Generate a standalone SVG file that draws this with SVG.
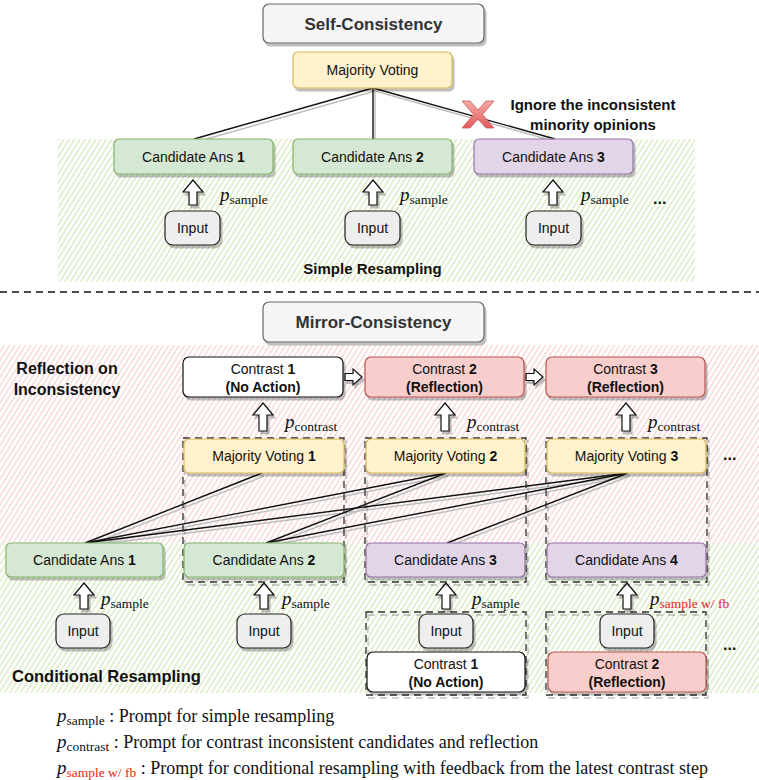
<svg xmlns="http://www.w3.org/2000/svg" width="759" height="780" viewBox="0 0 759 780">
<defs>
<pattern id="hg" width="4.5" height="4.5" patternUnits="userSpaceOnUse" patternTransform="rotate(32)"><line x1="2" y1="0" x2="2" y2="4.5" stroke="#c9e3a6" stroke-width="1"/></pattern>
<pattern id="hp" width="4.5" height="4.5" patternUnits="userSpaceOnUse" patternTransform="rotate(32)"><line x1="2" y1="0" x2="2" y2="4.5" stroke="#f6c6c6" stroke-width="1"/></pattern>
<filter id="sh" x="-10%" y="-10%" width="130%" height="150%"><feDropShadow dx="2" dy="3" stdDeviation="0.7" flood-color="#000" flood-opacity="0.25"/></filter>
<linearGradient id="xg" x1="0" y1="0" x2="0" y2="1"><stop offset="0" stop-color="#f6aaa6"/><stop offset="1" stop-color="#e05c5c"/></linearGradient>
<style>
.t{font-family:"Liberation Sans",Arial,sans-serif;font-size:14px;fill:#111;text-anchor:middle}
.b{font-weight:bold}
.title{font-family:"Liberation Sans",Arial,sans-serif;font-size:17px;font-weight:bold;fill:#333;text-anchor:middle}
.lab{font-family:"Liberation Sans",Arial,sans-serif;font-weight:bold;fill:#111}
.m{font-family:"Liberation Serif","Times New Roman",serif;fill:#111}
.pi{font-style:italic;font-size:19px}
.sub{font-size:13.5px}
.red{fill:#e8231e}
.leg{font-size:18px}
.gray{fill:#f5f5f5;stroke:#666;stroke-width:1.2}
.yel{fill:#fff2cc;stroke:#d6b656;stroke-width:1.2}
.grn{fill:#d5e8d4;stroke:#82b366;stroke-width:1.2}
.pur{fill:#e1d5e7;stroke:#9673a6;stroke-width:1.2}
.pnk{fill:#f8cecc;stroke:#b85450;stroke-width:1.2}
.wht{fill:#fff;stroke:#111;stroke-width:1.2}
.inp{fill:#eeeeee;stroke:#222;stroke-width:1.2}
.arr{fill:#fff;stroke:#111;stroke-width:1.2;stroke-linejoin:miter}
.cont{fill:none;stroke:#333;stroke-width:1.3;stroke-dasharray:7 5}
.ln{stroke:#111;stroke-width:1.4;fill:none}
.lns{stroke:#bdbdbd;stroke-width:1.4;fill:none}
</style>
</defs>

<g id="backgrounds">
<rect x="58" y="139" width="637" height="143" fill="url(#hg)"/>
<rect x="0" y="345" width="759" height="198" fill="url(#hp)"/>
<rect x="0" y="543" width="759" height="150" fill="url(#hg)"/>
<line x1="0" y1="292" x2="759" y2="292" stroke="#111" stroke-width="1.5" stroke-dasharray="7 5"/>
</g>

<g id="connectors">
<g transform="translate(2,3)">
<line class="lns" x1="373" y1="88" x2="194" y2="139"/>
<line class="lns" x1="373" y1="88" x2="373" y2="139"/>
<line class="lns" x1="373" y1="88" x2="555" y2="139"/>
<line class="lns" x1="262" y1="473" x2="85" y2="543"/>
<line class="lns" x1="446" y1="473" x2="85" y2="543"/>
<line class="lns" x1="446" y1="473" x2="266" y2="543"/>
<line class="lns" x1="628" y1="473" x2="85" y2="543"/>
<line class="lns" x1="628" y1="473" x2="266" y2="543"/>
<line class="lns" x1="628" y1="473" x2="447" y2="543"/>
</g>
<line class="ln" x1="373" y1="88" x2="194" y2="139"/>
<line class="ln" x1="373" y1="88" x2="373" y2="139"/>
<line class="ln" x1="373" y1="88" x2="555" y2="139"/>
<line class="ln" x1="262" y1="473" x2="85" y2="543"/>
<line class="ln" x1="446" y1="473" x2="85" y2="543"/>
<line class="ln" x1="446" y1="473" x2="266" y2="543"/>
<line class="ln" x1="628" y1="473" x2="85" y2="543"/>
<line class="ln" x1="628" y1="473" x2="266" y2="543"/>
<line class="ln" x1="628" y1="473" x2="447" y2="543"/>
<g filter="url(#sh)">
<polygon class="arr" points="193,180 203,192 197,192 197,205 189,205 189,192 183,192"/>
<polygon class="arr" points="373,180 383,192 377,192 377,205 369,205 369,192 363,192"/>
<polygon class="arr" points="553,180 563,192 557,192 557,205 549,205 549,192 543,192"/>
<polygon class="arr" points="263,403 273,415 267,415 267,431 259,431 259,415 253,415"/>
<polygon class="arr" points="445,403 455,415 449,415 449,431 441,431 441,415 435,415"/>
<polygon class="arr" points="626,403 636,415 630,415 630,431 622,431 622,415 616,415"/>
<polygon class="arr" points="84,583 94,595 88,595 88,609 80,609 80,595 74,595"/>
<polygon class="arr" points="264,583 274,595 268,595 268,609 260,609 260,595 254,595"/>
<polygon class="arr" points="446,583 456,595 450,595 450,609 442,609 442,595 436,595"/>
<polygon class="arr" points="627,583 637,595 631,595 631,609 623,609 623,595 617,595"/>
<polygon class="arr" points="345,373.5 353,373.5 353,369 362,377 353,385 353,380.5 345,380.5"/>
<polygon class="arr" points="526,373.5 534,373.5 534,369 543,377 534,385 534,380.5 526,380.5"/>
</g>
</g>

<g id="self-consistency">
<rect class="gray" x="263" y="4" width="221" height="39" rx="6" filter="url(#sh)"/>
<text class="title" x="373.5" y="29.5">Self-Consistency</text>
</g>
<g id="mv-top">
<rect class="yel" x="293" y="52" width="159" height="36" rx="5" filter="url(#sh)"/>
<text class="t" x="372.5" y="75">Majority Voting</text>
</g>
<g id="cand-top-1">
<rect class="grn" x="114" y="139" width="159" height="35" rx="5" filter="url(#sh)"/>
<text class="t" x="193.5" y="161.5">Candidate Ans <tspan class="b">1</tspan></text>
</g>
<g id="cand-top-2">
<rect class="grn" x="293" y="139" width="159" height="35" rx="5" filter="url(#sh)"/>
<text class="t" x="372.5" y="161.5">Candidate Ans <tspan class="b">2</tspan></text>
</g>
<g id="cand-top-3">
<rect class="pur" x="474" y="139" width="159" height="35" rx="5" filter="url(#sh)"/>
<text class="t" x="553.5" y="161.5">Candidate Ans <tspan class="b">3</tspan></text>
</g>
<g id="input-top-1">
<rect class="inp" x="165" y="211" width="55" height="34" rx="8" filter="url(#sh)"/>
<text class="t" x="192.5" y="233">Input</text>
</g>
<g id="input-top-2">
<rect class="inp" x="345" y="211" width="55" height="34" rx="8" filter="url(#sh)"/>
<text class="t" x="372.5" y="233">Input</text>
</g>
<g id="input-top-3">
<rect class="inp" x="526" y="211" width="55" height="34" rx="8" filter="url(#sh)"/>
<text class="t" x="553.5" y="233">Input</text>
</g>
<g id="labels-top">
<text class="m" x="220" y="201"><tspan class="pi">p</tspan><tspan class="sub" dy="3">sample</tspan></text>
<text class="m" x="400" y="201"><tspan class="pi">p</tspan><tspan class="sub" dy="3">sample</tspan></text>
<text class="m" x="581" y="201"><tspan class="pi">p</tspan><tspan class="sub" dy="3">sample</tspan></text>
<text class="lab" x="653" y="204" font-size="16">...</text>
<text class="lab" x="372.5" y="274" font-size="15" text-anchor="middle" fill="#222">Simple Resampling</text>
<polygon points="462,101 470,101 478,110 486,101 494,101 482.5,114.5 494,128 486,128 478,119 470,128 462,128 473.5,114.5" fill="url(#xg)" stroke="#cc5a5a" stroke-width="0.8"/>
<text class="lab" x="593" y="110" font-size="15" text-anchor="middle">Ignore the inconsistent</text>
<text class="lab" x="593" y="130" font-size="15" text-anchor="middle">minority opinions</text>
</g>

<g id="mirror-consistency">
<rect class="gray" x="263" y="302" width="221" height="40" rx="6" filter="url(#sh)"/>
<text class="title" x="373.5" y="328">Mirror-Consistency</text>
</g>
<g id="labels-bottom">
<text class="lab" x="67" y="374" font-size="16" text-anchor="middle">Reflection on</text>
<text class="lab" x="67" y="395" font-size="16" text-anchor="middle">Inconsistency</text>
<text class="lab" x="12" y="682" font-size="16.5">Conditional Resampling</text>
<text class="lab" x="723" y="460" font-size="16">...</text>
<text class="lab" x="723" y="650" font-size="16">...</text>
<text class="m" x="285" y="428"><tspan class="pi">p</tspan><tspan class="sub" dy="3">contrast</tspan></text>
<text class="m" x="467" y="428"><tspan class="pi">p</tspan><tspan class="sub" dy="3">contrast</tspan></text>
<text class="m" x="648" y="428"><tspan class="pi">p</tspan><tspan class="sub" dy="3">contrast</tspan></text>
<text class="m" x="101" y="605"><tspan class="pi">p</tspan><tspan class="sub" dy="3">sample</tspan></text>
<text class="m" x="282" y="605"><tspan class="pi">p</tspan><tspan class="sub" dy="3">sample</tspan></text>
<text class="m" x="472" y="605"><tspan class="pi">p</tspan><tspan class="sub" dy="3">sample</tspan></text>
<text class="m" x="650" y="605"><tspan class="pi">p</tspan><tspan class="sub red" dy="3">sample w/ fb</tspan></text>
</g>

<g id="contrast-1">
<rect class="wht" x="183" y="357" width="160" height="40" rx="6" filter="url(#sh)"/>
<text class="t" x="263" y="374">Contrast <tspan class="b">1</tspan></text>
<text class="t b" x="263" y="392">(No Action)</text>
</g>
<g id="contrast-2">
<rect class="pnk" x="365" y="357" width="159" height="40" rx="6" filter="url(#sh)"/>
<text class="t" x="444.5" y="374">Contrast <tspan class="b">2</tspan></text>
<text class="t b" x="444.5" y="392">(Reflection)</text>
</g>
<g id="contrast-3">
<rect class="pnk" x="546" y="357" width="159" height="40" rx="6" filter="url(#sh)"/>
<text class="t" x="625.5" y="374">Contrast <tspan class="b">3</tspan></text>
<text class="t b" x="625.5" y="392">(Reflection)</text>
</g>

<g id="group-1"><rect class="cont" x="183" y="438" width="161" height="144" filter="url(#sh)"/></g>
<g id="group-2"><rect class="cont" x="365" y="438" width="161" height="144" filter="url(#sh)"/></g>
<g id="group-3"><rect class="cont" x="546" y="438" width="161" height="144" filter="url(#sh)"/></g>
<g id="group-4"><rect class="cont" x="366" y="612" width="160" height="83" filter="url(#sh)"/></g>
<g id="group-5"><rect class="cont" x="546" y="612" width="160" height="83" filter="url(#sh)"/></g>

<g id="mv-1">
<rect class="yel" x="184" y="439" width="160" height="34" rx="5" filter="url(#sh)"/>
<text class="t" x="264" y="461">Majority Voting <tspan class="b">1</tspan></text>
</g>
<g id="mv-2">
<rect class="yel" x="366" y="439" width="159" height="34" rx="5" filter="url(#sh)"/>
<text class="t" x="445.5" y="461">Majority Voting <tspan class="b">2</tspan></text>
</g>
<g id="mv-3">
<rect class="yel" x="547" y="439" width="159" height="34" rx="5" filter="url(#sh)"/>
<text class="t" x="626.5" y="461">Majority Voting <tspan class="b">3</tspan></text>
</g>

<g id="cand-1">
<rect class="grn" x="6" y="543" width="157" height="34" rx="5" filter="url(#sh)"/>
<text class="t" x="84.5" y="565">Candidate Ans <tspan class="b">1</tspan></text>
</g>
<g id="cand-2">
<rect class="grn" x="184" y="543" width="160" height="34" rx="5" filter="url(#sh)"/>
<text class="t" x="264" y="565">Candidate Ans <tspan class="b">2</tspan></text>
</g>
<g id="cand-3">
<rect class="pur" x="366" y="543" width="159" height="34" rx="5" filter="url(#sh)"/>
<text class="t" x="445.5" y="565">Candidate Ans <tspan class="b">3</tspan></text>
</g>
<g id="cand-4">
<rect class="pur" x="547" y="543" width="159" height="34" rx="5" filter="url(#sh)"/>
<text class="t" x="626.5" y="565">Candidate Ans <tspan class="b">4</tspan></text>
</g>

<g id="input-1">
<rect class="inp" x="56" y="614" width="54" height="34" rx="8" filter="url(#sh)"/>
<text class="t" x="83" y="636">Input</text>
</g>
<g id="input-2">
<rect class="inp" x="237" y="614" width="54" height="34" rx="8" filter="url(#sh)"/>
<text class="t" x="264" y="636">Input</text>
</g>
<g id="input-3">
<rect class="inp" x="419" y="614" width="54" height="34" rx="8" filter="url(#sh)"/>
<text class="t" x="446" y="636">Input</text>
</g>
<g id="input-4">
<rect class="inp" x="600" y="614" width="54" height="34" rx="8" filter="url(#sh)"/>
<text class="t" x="627" y="636">Input</text>
</g>

<g id="contrast-b1">
<rect class="wht" x="367" y="652" width="158" height="40" rx="6" filter="url(#sh)"/>
<text class="t" x="446" y="669">Contrast <tspan class="b">1</tspan></text>
<text class="t b" x="446" y="687">(No Action)</text>
</g>
<g id="contrast-b2">
<rect class="pnk" x="548" y="652" width="158" height="40" rx="6" filter="url(#sh)"/>
<text class="t" x="627" y="669">Contrast <tspan class="b">2</tspan></text>
<text class="t b" x="627" y="687">(Reflection)</text>
</g>

<g id="legend">
<text class="m leg" x="57" y="722"><tspan class="pi">p</tspan><tspan class="sub" dy="3">sample</tspan><tspan dy="-3"> : Prompt for simple resampling</tspan></text>
<text class="m leg" x="57" y="748"><tspan class="pi">p</tspan><tspan class="sub" dy="3">contrast</tspan><tspan dy="-3"> : Prompt for contrast inconsistent candidates and reflection</tspan></text>
<text class="m leg" x="57" y="774"><tspan class="pi">p</tspan><tspan class="sub red" dy="3">sample w/ fb</tspan><tspan dy="-3"> : Prompt for conditional resampling with feedback from the latest contrast step</tspan></text>
</g>
</svg>
